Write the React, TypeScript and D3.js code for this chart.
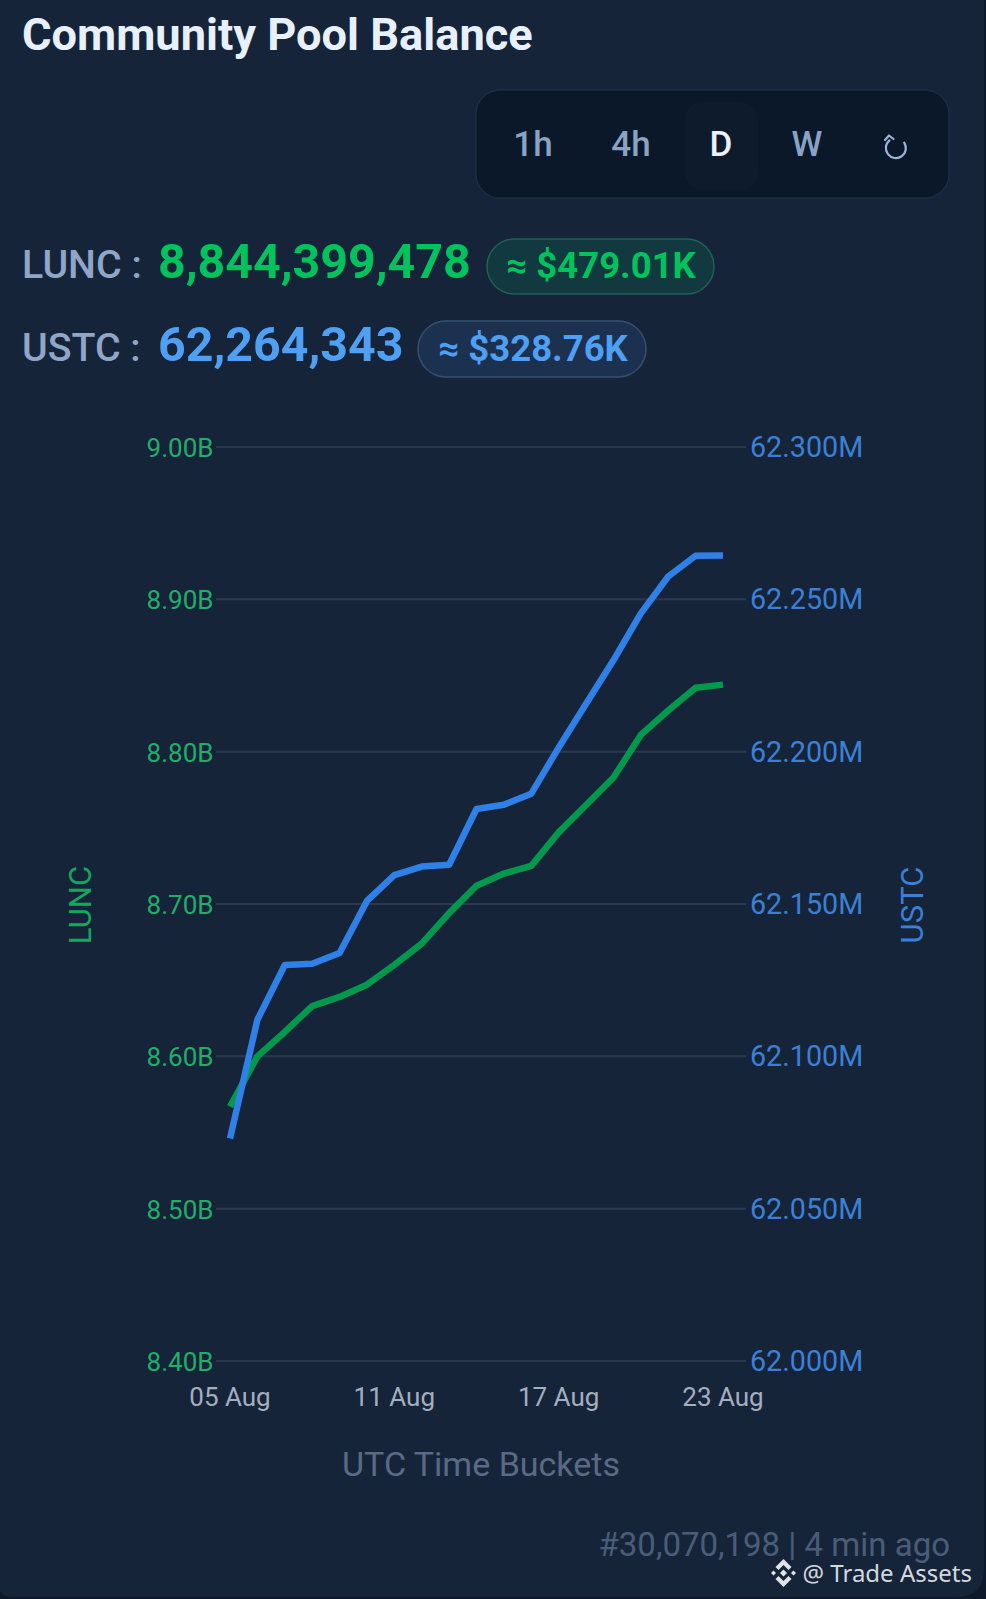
import React from "react";
import * as d3 from "d3";

const dates = [5,6,7,8,9,10,11,12,13,14,15,16,17,18,19,20,21,22,23];
const luncValues = [8.567,8.600,8.616,8.633,8.639,8.647,8.660,8.674,8.694,8.712,8.720,8.725,8.747,8.765,8.783,8.811,8.827,8.842,8.844];
const ustcValues = [62.073,62.112,62.130,62.1304,62.1339,62.151,62.1595,62.1623,62.1629,62.1812,62.1826,62.1862,62.2013,62.2157,62.2300,62.2454,62.2575,62.2643,62.2644];
const luncTicks = [8.4,8.5,8.6,8.7,8.8,8.9,9.0];
const ustcTicks = [62.0,62.05,62.1,62.15,62.2,62.25,62.3];
const dateTicks = [5,11,17,23];
const ranges = ["1h","4h","D","W"];
const rangeCenters = [533,631,721,807];

const BG = "#16243a";
const F = "Roboto, sans-serif";

export default function App() {
  const x = d3.scaleUtc().domain([new Date(Date.UTC(2025,7,5)), new Date(Date.UTC(2025,7,23))]).range([230,723]);
  const yL = d3.scaleLinear().domain([8.4,9.0]).range([1361,447]);
  const yR = d3.scaleLinear().domain([62.0,62.3]).range([1361,447]);
  const day = (d:number) => new Date(Date.UTC(2025,7,d));
  const fmt = d3.utcFormat("%d %b");
  const lineL = d3.line<number>().x((_,i)=>x(day(dates[i]))).y(d=>yL(d));
  const lineR = d3.line<number>().x((_,i)=>x(day(dates[i]))).y(d=>yR(d));
  return (
    <svg width={986} height={1599} viewBox="0 0 986 1599" style={{position:"absolute",left:0,top:0,display:"block"}} fontFamily={F}>
      <rect width={986} height={1599} fill="#0e1a2b"/>
      <path d="M0 0H984V1569Q984 1597 956 1597H12Q4 1597 0 1591Z" fill={BG}/>
      <text x={22} y={50} fontSize={45.2} fontWeight={700} fill="#e8f0fe">Community Pool Balance</text>

      <rect x={476} y={90} width={473} height={108} rx={24} fill="#0b1829" stroke="#1d2c43" strokeWidth={1.5}/>
      <rect x={685} y={102} width={73} height={88} rx={18} fill="#0e1b2c"/>
      {ranges.map((r,i)=>(
        <text key={r} x={rangeCenters[i]} y={156} fontSize={35} fontWeight={500} textAnchor="middle" fill={r==="D"?"#eaf1fb":"#8aa2c4"}>{r}</text>
      ))}
      <g fill="none" stroke="#9db4d6" strokeWidth={2.2} strokeLinecap="round" strokeLinejoin="round">
        <path d="M904.2 142.6A10 10 0 1 1 889.5 140.4"/>
        <path d="M885 140L889 135.5L893.5 139"/>
      </g>

      <text x={22} y={278} fontSize={39.3} fontWeight={500} fill="#8fa6c8">LUNC :</text>
      <text x={158} y={277.5} fontSize={48.3} fontWeight={700} fill="#00c35e">8,844,399,478</text>
      <rect x={487} y={239} width={227} height={55} rx={27.5} fill="#12393f" stroke="#1f6152" strokeWidth={1.5}/>
      <text x={601} y={277.5} fontSize={36.5} fontWeight={700} textAnchor="middle" fill="#00c35e">≈ $479.01K</text>

      <text x={22} y={361} fontSize={39.3} fontWeight={500} fill="#8fa6c8">USTC :</text>
      <text x={158} y={361} fontSize={48.3} fontWeight={700} fill="#4f9ff2">62,264,343</text>
      <rect x={418} y={321} width={228} height={56} rx={28} fill="#1c3150" stroke="#34506f" strokeWidth={1.5}/>
      <text x={533} y={361} fontSize={36.5} fontWeight={700} textAnchor="middle" fill="#4f9ff2">≈ $328.76K</text>

      {luncTicks.map(t=>(
        <line key={t} x1={216} x2={746} y1={yL(t)} y2={yL(t)} stroke="#2a3950" strokeWidth={2}/>
      ))}
      {luncTicks.map(t=>(
        <text key={t} x={213.5} y={yL(t)+1} dy="0.35em" fontSize={26} textAnchor="end" fill="#22ad68">{t.toFixed(2)}B</text>
      ))}
      {ustcTicks.map(t=>(
        <text key={t} x={750} y={yR(t)} dy="0.35em" fontSize={28.7} fill="#3c80d6">{t.toFixed(3)}M</text>
      ))}
      {dateTicks.map(d=>(
        <text key={d} x={x(day(d))} y={1406} fontSize={26} textAnchor="middle" fill="#a3afbf">{fmt(day(d))}</text>
      ))}
      <text transform="translate(90.5,905) rotate(-90)" fontSize={31} textAnchor="middle" fill="#12a85f">LUNC</text>
      <text transform="translate(923,905) rotate(-90)" fontSize={31} textAnchor="middle" fill="#3c80d6">USTC</text>
      <text x={481} y={1475.5} fontSize={34} textAnchor="middle" fill="#5a6a84">UTC Time Buckets</text>

      <path d={lineL(luncValues)!} fill="none" stroke="#02994d" strokeWidth={6.5} strokeLinejoin="round"/>
      <path d={lineR(ustcValues)!} fill="none" stroke="#2f81e8" strokeWidth={6.5} strokeLinejoin="round"/>

      <text x={950} y={1556} fontSize={33} textAnchor="end" fill="#4a5d78">#30,070,198 | 4 min ago</text>
      <g transform="translate(783.5,1573)" fill="#e0e4e9">
        <path d="M0 -14L8 -6L5 -3L0 -8L-5 -3L-8 -6Z"/>
        <path d="M0 14L8 6L5 3L0 8L-5 3L-8 6Z"/>
        <path d="M0 -3.5L3.5 0L0 3.5L-3.5 0Z"/>
        <path d="M-10 -2.5L-7.5 0L-10 2.5L-12.5 0Z"/>
        <path d="M10 -2.5L12.5 0L10 2.5L7.5 0Z"/>
      </g>
      <text x={802.5} y={1582} fontSize={24} fontFamily="Noto Sans, sans-serif" fill="#d3d8de">@ Trade Assets</text>
    </svg>
  );
}
